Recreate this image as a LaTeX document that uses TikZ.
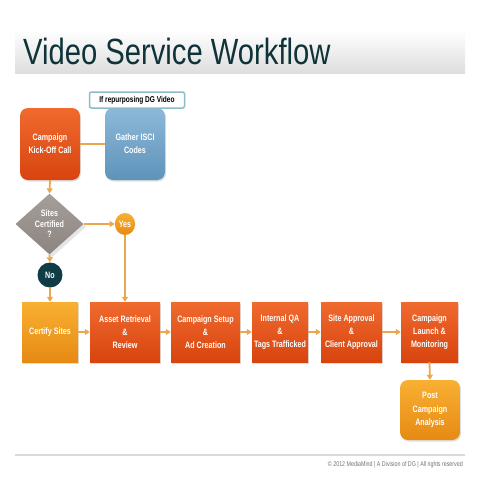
\documentclass[tikz,border=0pt]{standalone}
\usepackage{fontspec}
\setmainfont[FakeStretch=0.77]{Liberation Sans}
\newfontfamily\titlefont[FakeStretch=0.80]{Liberation Sans}
\usetikzlibrary{shapes.geometric,arrows.meta,shadows}
\definecolor{rtop}{HTML}{F06A2E}
\definecolor{rbot}{HTML}{D8440F}
\definecolor{otop}{HTML}{F8B032}
\definecolor{obot}{HTML}{E68A14}
\definecolor{btop}{HTML}{8DB9D8}
\definecolor{bbot}{HTML}{5E93BA}
\definecolor{graydia}{HTML}{9B938E}
\definecolor{noteal}{HTML}{0F3C45}
\definecolor{conn}{HTML}{E9A850}
\definecolor{titlecol}{HTML}{0F3338}
\definecolor{calloutb}{HTML}{8CBCC9}
\begin{document}
\begin{tikzpicture}[x=1pt,y=-1pt,
  boxtxt/.style={text=white,align=center,font=\bfseries\fontsize{9.3}{13.3}\selectfont,inner sep=1pt},
  redbox/.style={boxtxt,top color=rtop,bottom color=rbot,draw=none,drop shadow={opacity=0.25,shadow xshift=1pt,shadow yshift=-1.5pt}},
  orbox/.style={boxtxt,top color=otop,bottom color=obot,draw=none,drop shadow={opacity=0.25,shadow xshift=1pt,shadow yshift=-1.5pt}},
  bluebox/.style={boxtxt,top color=btop,bottom color=bbot,draw=none,drop shadow={opacity=0.25,shadow xshift=1pt,shadow yshift=-1.5pt}},
  conline/.style={draw=conn,line width=1.8pt},
  conarrow/.style={conline,-{Triangle[length=5pt,width=6pt]}}]
\useasboundingbox (0,0) rectangle (480,480);
\fill[white] (0,0) rectangle (480,480);
% banner
\shade[top color=white,bottom color=black!13] (15,30) rectangle (465,73);
\node[anchor=base west,text=titlecol,inner sep=0,font=\titlefont\fontsize{36.5}{36}\selectfont] (title) at (23,64) {Video Service Workflow};
% top nodes
\node[redbox,rounded corners=8pt,minimum width=60pt,minimum height=72pt] (kick) at (50,144) {Campaign\\Kick-Off Call};
\node[bluebox,rounded corners=8pt,minimum width=60pt,minimum height=72pt] (gather) at (135,144) {Gather ISCI\\Codes};
\node[draw=calloutb,line width=1.5pt,fill=white,rounded corners=2pt,minimum width=95pt,minimum height=16pt,inner sep=1pt,font=\bfseries\fontsize{8.5}{9}\selectfont] (note) at (137,100) {If repurposing DG Video};
\node[diamond,top color=graydia!90!white,bottom color=graydia!90!black,minimum width=68pt,minimum height=53pt,inner sep=0pt,boxtxt,font=\bfseries\fontsize{9.3}{10.5}\selectfont,drop shadow={opacity=0.2}] (dia) at (49.5,224) {Sites\\Certified\\?};
\node[ellipse,top color=otop,bottom color=obot,minimum width=18pt,minimum height=22pt,inner sep=0pt,boxtxt] (yes) at (125,224) {Yes};
\node[circle,fill=noteal,minimum size=25pt,inner sep=0pt,boxtxt] (no) at (50,275) {No};
% bottom row
\node[orbox,minimum width=56pt,minimum height=60pt] (cert) at (50,332) {Certify Sites};
\node[redbox,minimum width=70pt,minimum height=60pt] (asset) at (125,332) {Asset Retrieval\\\&\\Review};
\node[redbox,minimum width=69pt,minimum height=60pt] (setup) at (205.5,332) {Campaign Setup\\\&\\Ad Creation};
\node[redbox,minimum width=56pt,minimum height=60pt] (qa) at (280,332) {Internal QA\\\&\\Tags Trafficked};
\node[redbox,minimum width=61pt,minimum height=60pt] (site) at (351.5,332) {Site Approval\\\&\\Client Approval};
\node[redbox,minimum width=57pt,minimum height=60pt] (launch) at (429.5,332) {Campaign\\Launch \&\\Monitoring};
\node[orbox,rounded corners=8pt,minimum width=60pt,minimum height=60pt] (post) at (430,410) {Post\\Campaign\\Analysis};
% connectors
\draw[conline] (kick.east) -- (gather.west);
\draw[conarrow] (kick.south) -- (dia.north);
\draw[conarrow] (dia.east) -- (yes.west);
\draw[conarrow] (dia.south) -- (no.north);
\draw[conarrow] (no.south) -- (cert.north);
\draw[conarrow] (yes.south) -- (asset.north);
\draw[conarrow] (cert.east) -- (asset.west);
\draw[conarrow] (asset.east) -- (setup.west);
\draw[conarrow] (setup.east) -- (qa.west);
\draw[conarrow] (qa.east) -- (site.west);
\draw[conarrow] (site.east) -- (launch.west);
\draw[conarrow] (launch.south) -- (post.north);
% footer
\draw[black!15,line width=1.2pt] (15,455) -- (465,455);
\node[anchor=east,text=black!55,inner sep=0,font=\fontsize{6.9}{7}\selectfont] (foot) at (463,465) {© 2012 MediaMind | A Division of DG | All rights reserved};
\end{tikzpicture}
\end{document}
